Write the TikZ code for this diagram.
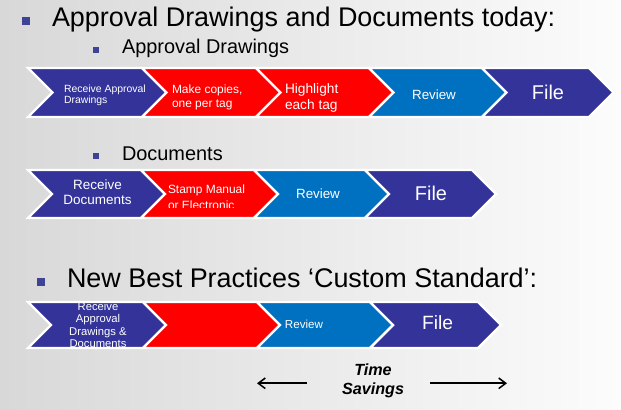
\documentclass[tikz,border=0pt]{standalone}
\usepackage{fontspec}
\setmainfont{Liberation Sans}
\usetikzlibrary{arrows.meta}

\definecolor{apviolet}{RGB}{51,51,153}
\definecolor{apred}{RGB}{255,0,0}
\definecolor{apblue}{RGB}{0,112,192}
\definecolor{apbullet}{RGB}{64,66,150}
\definecolor{apbgleft}{RGB}{216,216,216}
\definecolor{apbgright}{RGB}{252,252,252}
\definecolor{aptext}{RGB}{0,0,0}

\begin{document}
\begin{tikzpicture}[
  x=0.03cm,
  y=0.03cm,
  every node/.style={inner sep=0pt, outer sep=0pt},
  head/.style={font=\fontsize{23}{26}\selectfont, text=aptext, anchor=base west},
  subhead/.style={font=\fontsize{17}{20}\selectfont, text=aptext, anchor=base west},
  bullet/.style={fill=apbullet},
  chev/.style={draw=white, line width=2.1pt, line join=miter},
  violetchev/.style={chev, fill=apviolet},
  redchev/.style={chev, fill=apred},
  bluechev/.style={chev, fill=apblue},
  label/.style={text=white, align=left},
  filelabel/.style={text=white, font=\fontsize{17}{20}\selectfont},
  timelabel/.style={font=\bfseries\itshape\fontsize{13.8}{16.2}\selectfont, text=aptext, align=center},
  span/.style={draw=aptext, line width=1.8pt, -{Straight Barb[length=6pt, width=9pt, line width=1.3pt]}}
]

  \path[use as bounding box] (0,0) rectangle (621,409);
  \shade[left color=apbgleft, right color=apbgright] (0,0) rectangle (621,409);

  % Headings
  \fill[bullet] (22,384) rectangle (30,392);
  \node[head] (today) at (52,382) {Approval Drawings and Documents today:};
  \fill[bullet] (93,356) rectangle (99,362);
  \node[subhead] (drawhead) at (122,355) {Approval Drawings};
  \fill[bullet] (93,250) rectangle (99,256);
  \node[subhead] (dochead) at (122,249) {Documents};
  \fill[bullet] (37,123) rectangle (45,131);
  \node[head] (custom) at (67,122) {New Best Practices ‘Custom Standard’:};

  % Approval drawings row
  \draw[violetchev] (28,341) -- (142,341) -- (166.5,316.5) -- (142,292) -- (28,292) -- (52.5,316.5) -- cycle;
  \draw[redchev] (142,341) -- (256,341) -- (280.5,316.5) -- (256,292) -- (142,292) -- (166.5,316.5) -- cycle;
  \draw[redchev] (256,341) -- (369,341) -- (393.5,316.5) -- (369,292) -- (256,292) -- (280.5,316.5) -- cycle;
  \draw[bluechev] (369,341) -- (482,341) -- (506.5,316.5) -- (482,292) -- (369,292) -- (393.5,316.5) -- cycle;
  \draw[violetchev] (482,341) -- (589,341) -- (613.5,316.5) -- (589,292) -- (482,292) -- (506.5,316.5) -- cycle;
  \node[label, anchor=west, font=\fontsize{8.9}{9.4}\selectfont] (recvdraw) at (64,314) {Receive Approval\\Drawings};
  \node[label, anchor=west, font=\fontsize{10.2}{11.9}\selectfont] (copies) at (172,312) {Make copies,\\one per tag};
  \node[label, anchor=west, font=\fontsize{11.7}{14.4}\selectfont] (highlight) at (285,311) {Highlight\\each tag};
  \node[label, font=\fontsize{11.4}{13}\selectfont] (reviewa) at (434,314.3) {Review};
  \node[filelabel] (filea) at (548,317) {File};

  % Documents row
  \draw[violetchev] (28,239) -- (141,239) -- (165,215) -- (141,191) -- (28,191) -- (52,215) -- cycle;
  \draw[redchev] (141,239) -- (254,239) -- (278,215) -- (254,191) -- (141,191) -- (165,215) -- cycle;
  \draw[bluechev] (254,239) -- (365,239) -- (389,215) -- (365,191) -- (254,191) -- (278,215) -- cycle;
  \draw[violetchev] (365,239) -- (472,239) -- (496,215) -- (472,191) -- (365,191) -- (389,215) -- cycle;
  \node[label, align=center, font=\fontsize{11.5}{12.8}\selectfont] (recvdoc) at (97.5,217.3) {Receive\\Documents};
  \begin{scope}
    \clip (160,201.7) rectangle (260,240);
    \node[label, anchor=north west, font=\fontsize{10.2}{13.3}\selectfont] (stamp) at (168,224) {Stamp Manual\\or Electronic};
  \end{scope}
  \node[label, font=\fontsize{11.4}{13}\selectfont] (reviewb) at (318,215) {Review};
  \node[filelabel] (fileb) at (431,215.3) {File};

  % Custom standard row
  \draw[violetchev] (28,107) -- (143,107) -- (166,84) -- (143,61) -- (28,61) -- (51,84) -- cycle;
  \draw[redchev] (143,107) -- (257,107) -- (280,84) -- (257,61) -- (143,61) -- (166,84) -- cycle;
  \draw[bluechev] (257,107) -- (370,107) -- (393,84) -- (370,61) -- (257,61) -- (280,84) -- cycle;
  \draw[violetchev] (370,107) -- (478,107) -- (501,84) -- (478,61) -- (370,61) -- (393,84) -- cycle;
  \node[label, align=center, font=\fontsize{9.6}{10.4}\selectfont] (recvall) at (98,84) {Receive\\Approval\\Drawings \&\\Documents};
  \node[label, font=\fontsize{9.9}{11}\selectfont] (reviewc) at (304,85) {Review};
  \node[filelabel, font=\fontsize{16.4}{19}\selectfont] (filec) at (437.5,86) {File};

  % Time savings
  \node[timelabel] (saving) at (373,28.5) {Time\\Savings};
  \coordinate (leftfrom) at (307,25.7);
  \coordinate (leftto) at (257,25.7);
  \coordinate (rightfrom) at (430,25.7);
  \coordinate (rightto) at (507,25.7);
  \draw[span] (leftfrom) -- (leftto);
  \draw[span] (rightfrom) -- (rightto);

\end{tikzpicture}
\end{document}
